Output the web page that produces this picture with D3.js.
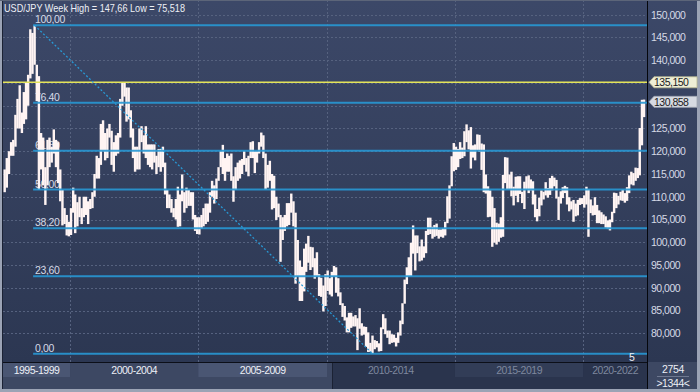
<!DOCTYPE html>
<html>
<head>
<meta charset="utf-8">
<script src="https://cdn.jsdelivr.net/npm/d3@7"></script>
<style>
  body { margin: 0; background: #9ba3b5; }
  svg { display: block; font-family: "Liberation Sans", Arial, sans-serif; }
</style>
</head>
<body>
<svg id="chart" width="700" height="392"></svg>
<script>
// monthly low / high, Jun 1997 .. May 2022
const lows = [
  111, 112, 115, 119, 119, 121, 125,                                   // 1997 Jun-Dec
  125, 124, 126, 127, 130, 136, 137, 139, 131, 111.5, 116, 112.5,      // 1998
  108.2, 112.5, 116.5, 117.5, 119.5, 116.5, 113, 109, 103.7, 104, 101.5, 101.3,
  101.6, 106.5, 102, 103.5, 105.5, 104, 105.5, 106, 104, 107.3, 107.5, 110,
  114, 114, 117, 120, 118, 118.5, 123, 117, 115.5, 119, 119.5, 123,
  130, 132, 126.5, 127, 123, 118.5, 115.5, 116, 116, 122, 119.5, 118.5,
  117, 116.5, 116, 117.5, 115, 116.5, 115.5, 116.5, 110.5, 107.5, 107.5, 106.5,
  105.5, 105, 103.4, 103.5, 109, 106.5, 107.5, 108, 108, 105, 102.5, 101.8,
  101.7, 103, 103.5, 104, 104.5, 106.5, 110, 108.5, 109.5, 113.5, 116.5, 115,
  113.5, 115.5, 115.5, 113.5, 108.9, 111.5, 113.5, 114, 115, 117, 115.5, 114.5,
  118.5, 118.5, 115.2, 117.5, 119.5, 121, 118.5, 111.6, 112, 113.5, 107.2, 107.5,
  104.9, 105.5, 95.7, 100.5, 102.5, 103.5, 103.8, 106.5, 103.5, 90.9, 92.5, 87.1,
  87.1, 89.2, 93.5, 95.5, 93.9, 94.5, 92, 92.5, 88.2, 88, 84.8, 86,
  89.3, 88.5, 88.1, 92.5, 88.9, 88.1, 86.2, 83.6, 82.8, 80.2, 80.2, 81.2,
  81.5, 81.5, 76.3, 81, 79.5, 79.7, 77, 75.9, 75.9, 75.518, 76.5, 76.9,
  76, 76.1, 80.9, 79.8, 79, 77.6, 77.9, 78, 77.1, 77.9, 79.5, 82,
  86.5, 90.8, 92.5, 92.6, 97.5, 93.8, 97.6, 95.8, 96, 96.6, 97.6, 101.6,
  101.8, 100.8, 101.2, 101.4, 100.8, 101.2, 101, 101.5, 104.2, 105.2, 112.3, 115.6,
  115.9, 116.5, 118.3, 118.5, 118.9, 122, 120.4, 116.2, 118.6, 118, 120.2, 119.9,
  115.9, 111, 110.7, 105.5, 105.6, 99, 99.9, 99.5, 100.1, 101, 101.2, 113,
  111.6, 111.6, 110.1, 108.1, 110.2, 108.8, 110.6, 108.6, 107.3, 111.6, 110.8, 111.4,
  108.3, 105.5, 104.6, 105.7, 108.1, 109.4, 110.3, 109.8, 110.4, 111.4, 112.3, 109.6,
  104.9, 108.5, 109.7, 110.8, 108.3, 106.8, 107.2, 104.5, 105.7, 105.9, 108.2, 108.4,
  107.6, 108.3, 101.2, 106.4, 105.9, 106, 104.2, 104.2, 104, 104, 103.2, 102.9,
  102.6, 104.4, 106.4, 107.5, 108.3, 109.2, 109.1, 108.7, 109.1, 110.8, 112.7, 112.5,
  113.5, 114.1, 114.7, 121.3, 127.5                                    // 2022 Jan-May
];
const highs = [
  116, 118.5, 120, 122, 122.5, 128, 131.5,
  134.5, 128.5, 133, 135, 136.8, 146.8, 146, 147.66, 139, 136.5, 124, 123,
  116.5, 122.5, 123, 121, 124.8, 122.5, 122, 116, 111.5, 107.5, 106, 104.5,
  107.5, 112, 110.5, 108.8, 110, 107.5, 110, 110, 109, 109.5, 111, 115,
  119, 118.5, 126, 126.8, 124, 125, 126, 124.5, 122, 123.5, 124, 131.5,
  135.1, 135.15, 134, 134, 129, 125, 121, 121, 125, 125.5, 123.5, 125.5,
  121.5, 121.5, 121.5, 121.5, 119, 120.5, 120.5, 121, 117.5, 111.5, 110.5, 109.5,
  107.5, 109.5, 112.2, 110.5, 114.9, 111, 112, 111.5, 111, 111, 106, 105.5,
  105.5, 106, 107.5, 108.5, 108.5, 111, 113.5, 112.5, 114, 116.5, 120, 121.4,
  118.5, 119.5, 119, 119.5, 114.5, 116.5, 117.5, 118, 118.3, 120, 118.5, 119,
  122, 122.2, 120, 120, 122, 124.1, 123.5, 119.5, 117, 117.9, 115, 114.6,
  110, 108.5, 106, 105.5, 106, 108.6, 108.6, 110.7, 109, 106.5, 100.5, 96,
  94.6, 98.6, 99.7, 101.4, 99, 98.9, 96.5, 97.8, 93, 92.2, 90.5, 93,
  93.8, 92.1, 93.5, 94.8, 94.5, 92.1, 89, 86.6, 86, 83.5, 84.5, 84.5,
  83.7, 84, 83.3, 85.5, 82.2, 81.5, 81.4, 80.2, 77.9, 79.5, 78.5, 78.3,
  77.8, 81.3, 84.2, 83.3, 80.6, 80.6, 79.8, 79.7, 79, 80.2, 82.8, 86.6,
  91.8, 94.5, 96.7, 99.9, 103.7, 101.5, 101.5, 99.1, 100.6, 99.1, 102.5, 105.4,
  105.4, 103.4, 103.8, 104.1, 102.8, 102.8, 103.1, 104.5, 110.1, 112.5, 118.9, 121.8,
  121, 120.5, 122, 120.8, 124.4, 125.9, 124.6, 125.3, 121.3, 121.5, 123.7, 123.6,
  121.7, 121.5, 114.9, 112.3, 111.4, 110, 107.5, 104.3, 104.1, 105.5, 114.8, 118.7,
  118.6, 114.9, 115.5, 112.2, 114.4, 114.5, 114.5, 111.1, 113.3, 114.5, 114.7, 113.8,
  113.4, 110.5, 107.3, 109.8, 111.4, 111.1, 113.2, 111.9, 114.1, 114.6, 114.2, 113.7,
  110, 111.2, 112.1, 112.4, 112.1, 109.9, 109, 109.3, 108.5, 109.3, 109.7, 109.7,
  110.3, 112.2, 111.7, 109.4, 108.1, 109.9, 108.2, 107, 106.6, 106.1, 105.7, 104.8,
  105, 106.7, 110.9, 110.8, 110.2, 111.1, 111.6, 110.8, 112.1, 114.7, 115.5, 115.2,
  116.4, 116.3, 125.1, 131.3, 131.35
];
const months = d3.timeMonth.range(new Date(1997, 5, 1), new Date(2022, 5, 1));

const yTicks = [80, 85, 90, 95, 100, 105, 110, 115, 120, 125, 130, 135, 140, 145, 150];
const yTickLabels = [80, 85, 90, 95, 100, 105, 110, 115, 120, 125, 140, 145, 150];   // 130 / 135 sit under the price markers
const periods = ["1995-1999", "2000-2004", "2005-2009", "2010-2014", "2015-2019", "2020-2022"];
const periodStarts = [1995, 2000, 2005, 2010, 2015, 2020];
const fibLevels = [100, 76.4, 61.8, 50, 38.2, 23.6, 0];
const refLine = 135.15;
const lastPrice = 130.858;
const titleText = "USD/JPY Week High = 147,66 Low = 75,518";
const barCount = "2754";
const visibleCount = ">1344<";

const plotL = 3, plotR = 647, plotT = 0, plotB = 362;
const svg = d3.select("#chart");

const x = d3.scaleTime()
  .domain([new Date(1997, 4, 22), new Date(2022, 5, 26)])
  .range([plotL, plotR]);
const y = d3.scaleLinear().domain([73.69, 153.23]).range([plotB, plotT]);
const comma = f => v => d3.format(f)(v).replace(".", ",");

// background
const defs = svg.append("defs");
const grad = defs.append("linearGradient").attr("id", "bg")
  .attr("x1", 0).attr("y1", 0).attr("x2", 0).attr("y2", 1);
grad.append("stop").attr("offset", 0).attr("stop-color", "#3c4868");
grad.append("stop").attr("offset", 1).attr("stop-color", "#2c3752");
svg.append("rect").attr("x", 0).attr("y", 0).attr("width", 700).attr("height", 392).attr("fill", "#9ba3b5");
svg.append("rect").attr("x", plotL).attr("y", 1).attr("width", 697 - plotL).attr("height", plotB - 1).attr("fill", "url(#bg)");
svg.append("line").attr("x1", 2.5).attr("x2", 2.5).attr("y1", 1).attr("y2", 389).attr("stroke", "#1b2234");

// grid
const grid = svg.append("g").attr("stroke", "#56627f").attr("stroke-dasharray", "2,2").attr("stroke-width", 1);
grid.selectAll("line.h").data(yTicks).join("line").attr("class", "h")
  .attr("x1", plotL).attr("x2", plotR)
  .attr("y1", d => Math.round(y(d)) + 0.5).attr("y2", d => Math.round(y(d)) + 0.5);
grid.selectAll("line.v").data(periodStarts.slice(1)).join("line").attr("class", "v")
  .attr("x1", d => Math.round(x(new Date(d, 0, 1))) + 0.5).attr("x2", d => Math.round(x(new Date(d, 0, 1))) + 0.5)
  .attr("y1", plotT).attr("y2", plotB);

// fibonacci setup
const hi = d3.max(highs), lo = d3.min(lows);
const iHi = highs.indexOf(hi), iLo = lows.indexOf(lo);
const mid = i => x(d3.timeDay.offset(months[i], 14));
const fibY = lvl => y(lo + lvl / 100 * (hi - lo));

svg.append("g").selectAll("text").data(fibLevels).join("text")
  .attr("x", mid(iHi) + 0.5).attr("y", d => fibY(d) - 2)
  .attr("fill", "#d6dae6").attr("font-size", 10.5).attr("letter-spacing", -0.4)
  .text(d => comma(".2f")(d));

// price bars (one per month, wide enough to touch the next)
const step = x(months[1]) - x(months[0]);
svg.append("g").selectAll("rect").data(months).join("rect")
  .attr("x", (d, i) => mid(i) - step / 2 - 0.15)
  .attr("width", step + 0.3)
  .attr("y", (d, i) => y(highs[i]))
  .attr("height", (d, i) => Math.max(1, y(lows[i]) - y(highs[i])))
  .attr("fill", "#fff4f3");

// fib lines
svg.append("g").selectAll("line").data(fibLevels).join("line")
  .attr("x1", mid(iHi) - 1.5).attr("x2", plotR)
  .attr("y1", d => fibY(d)).attr("y2", d => fibY(d))
  .attr("stroke", "#2898d4").attr("stroke-width", 2).attr("opacity", 0.9);

// reference line
svg.append("line").attr("x1", plotL).attr("x2", plotR)
  .attr("y1", y(refLine)).attr("y2", y(refLine))
  .attr("stroke", "#e4e45a").attr("stroke-width", 1.5);

// diagonal high -> low
svg.append("line")
  .attr("x1", mid(iHi)).attr("y1", y(hi)).attr("x2", mid(iLo)).attr("y2", y(lo))
  .attr("stroke", "#2898d4").attr("stroke-width", 1.3).attr("stroke-dasharray", "2,2");

// title
svg.append("text").attr("x", 4).attr("y", 11.5)
  .attr("fill", "#eef0f6").attr("font-size", 11)
  .attr("textLength", 181).attr("lengthAdjust", "spacingAndGlyphs")
  .text(titleText);

svg.append("text").attr("x", 629).attr("y", 361).attr("fill", "#eef0f6").attr("font-size", 10.5).text("5");

// right axis
const axis = svg.append("g").attr("transform", `translate(${plotR},0)`)
  .call(d3.axisRight(y).tickValues(yTickLabels).tickSize(0).tickPadding(4).tickFormat(comma(".3f")));
axis.select(".domain").remove();
axis.selectAll("text").attr("fill", "#d6dae6").attr("font-size", 10.5).attr("letter-spacing", -0.5)
  .attr("font-family", "Liberation Sans, Arial, sans-serif");

// price markers
const markers = [{ v: refLine, fill: "#eeeed6", stroke: "#b8b890" }, { v: lastPrice, fill: "#d6dae2", stroke: "#a0a6b2" }];
const mk = svg.append("g").selectAll("g").data(markers).join("g")
  .attr("transform", d => `translate(0,${y(d.v)})`);
mk.append("path")
  .attr("d", "M649,0 L654,-5.5 L697,-5.5 L697,5.5 L654,5.5 Z")
  .attr("fill", d => d.fill).attr("stroke", d => d.stroke).attr("stroke-width", 0.8);
mk.append("text").attr("x", 654).attr("dy", "0.35em").attr("fill", "#1a1a22")
  .attr("font-size", 10.5).attr("letter-spacing", -0.5)
  .text(d => comma(".3f")(d.v));

// bottom strip
svg.append("rect").attr("x", plotL).attr("y", plotB).attr("width", 332 - plotL).attr("height", 389 - plotB).attr("fill", "#3d4863");
svg.append("rect").attr("x", 332).attr("y", plotB).attr("width", plotR - 332).attr("height", 389 - plotB).attr("fill", "#2a344d");
const cellFill = ["#4a5673", "#3d4863", "#4a5673", "#2a344d", "#323d57", "#2a344d"];
const cellText = ["#eceff6", "#eceff6", "#eceff6", "#7e889e", "#7e889e", "#7e889e"];
const cells = svg.append("g").selectAll("g").data(periods).join("g");
const cx0 = i => Math.max(plotL, x(new Date(periodStarts[i], 0, 1)));
const cx1 = i => i === 2 ? 327 : Math.min(plotR, i + 1 < periodStarts.length ? x(new Date(periodStarts[i + 1], 0, 1)) : plotR);
cells.append("rect")
  .attr("x", (d, i) => i === 3 ? 333 : cx0(i)).attr("y", plotB + 1)
  .attr("width", (d, i) => cx1(i) - (i === 3 ? 333 : cx0(i))).attr("height", 14)
  .attr("fill", (d, i) => cellFill[i]);
cells.append("text")
  .attr("x", (d, i) => (cx0(i) + cx1(i)) / 2).attr("y", plotB + 12)
  .attr("text-anchor", "middle").attr("font-size", 10.5).attr("letter-spacing", -0.5)
  .attr("fill", (d, i) => cellText[i]).text(d => d);
svg.append("line").attr("x1", 332.5).attr("x2", 332.5).attr("y1", plotB).attr("y2", 389).attr("stroke", "#1b2234");
svg.append("line").attr("x1", plotL).attr("x2", 697).attr("y1", plotB + 0.5).attr("y2", plotB + 0.5).attr("stroke", "#0c0f18");

// bottom-right counter box
svg.append("rect").attr("x", plotR).attr("y", plotB).attr("width", 697 - plotR).attr("height", 389 - plotB).attr("fill", "#3d4863");
svg.append("text").attr("x", 673).attr("y", plotB + 11).attr("text-anchor", "middle")
  .attr("fill", "#eceff6").attr("font-size", 10.5).attr("letter-spacing", -0.4).text(barCount);
svg.append("line").attr("x1", 657).attr("x2", 689).attr("y1", plotB + 14.5).attr("y2", plotB + 14.5).attr("stroke", "#6e7890");
svg.append("text").attr("x", 673).attr("y", plotB + 24.5).attr("text-anchor", "middle")
  .attr("fill", "#eceff6").attr("font-size", 10.5).attr("letter-spacing", -0.4).text(visibleCount);

// axis divider
svg.append("line").attr("x1", plotR + 0.5).attr("x2", plotR + 0.5).attr("y1", 0).attr("y2", 389).attr("stroke", "#05070c");
svg.append("line").attr("x1", 0).attr("x2", 700).attr("y1", 0.5).attr("y2", 0.5).attr("stroke", "#5c6579");
</script>
</body>
</html>
